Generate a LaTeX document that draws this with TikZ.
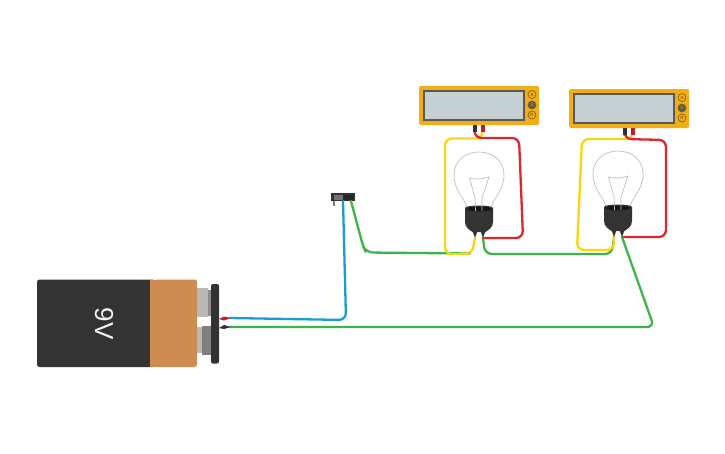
\documentclass[tikz,border=0pt]{standalone}
\usepackage{fontspec}
\setmainfont{Liberation Sans}
\definecolor{wred}{HTML}{E0262B}
\definecolor{wyellow}{HTML}{FBD60F}
\definecolor{wgreen}{HTML}{3DB54A}
\definecolor{wblue}{HTML}{1B9DCF}
\definecolor{dark}{HTML}{333333}
\definecolor{copper}{HTML}{CF8C52}
\definecolor{amber}{HTML}{F2AE17}
\definecolor{lcd}{HTML}{C6CFD2}
\tikzset{
  x=1pt,y=-1pt,
  wire/.style={line width=2.3pt,rounded corners=7pt,line cap=round},
  glass/.style={draw=black!25,line width=0.7pt},
  btn/.style={circle,draw=black!45!amber,line width=0.7pt,inner sep=0pt,minimum size=8pt,
     font=\fontsize{4.5}{5}\selectfont,text=black!60!amber},
  pin/.style={line width=4pt},
  meter/.pic={
    \path[fill=amber,rounded corners=2pt] (0,0) rectangle (120,39);
    \path[fill=lcd,draw=black!65,line width=1.4pt] (5,5) rectangle (105,34);
    \node[btn] (-a) at (113,8.5) {A};
    \node[btn,fill=black!65,text=amber] (-v) at (113,19) {V};
    \node[btn] (-r) at (113,29) {R};
    \coordinate (-black) at (55.5,46);
    \coordinate (-red) at (63.5,46);
    \coordinate (-blacktop) at (55.5,39);
    \coordinate (-redtop) at (63.5,39);
  },
  bulb/.pic={
    \path[glass,fill=white] (-12,1) .. controls (-12,-8) and (-25,-16) .. (-25,-33)
      .. controls (-25,-47) and (-14,-56) .. (0,-56)
      .. controls (14,-56) and (25,-47) .. (25,-33)
      .. controls (25,-16) and (12,-8) .. (12,1);
    \path[fill=dark] (-14,0) -- (-14,14) .. controls (-14,20) and (-9,22) .. (-6.5,24)
      -- (-1.5,24) -- (1.5,24) -- (6.5,24)
      .. controls (9,22) and (14,20) .. (14,14) -- (14,0) -- cycle;
    \path[fill=dark] (0,0) ellipse [x radius=14,y radius=2.5];
    \path[fill=black!92] (0,1) ellipse [x radius=12,y radius=2.4];
    \path[glass] (-3.5,3) -- (-4,-10) -- (-9.5,-30) .. controls (-3,-28) and (3,-29) .. (10,-31)
      -- (3,-10) -- (3,3);
    \coordinate (-left) at (-4,30);
    \coordinate (-right) at (4,30);
    \coordinate (-lefttop) at (-4,23);
    \coordinate (-righttop) at (4,23);
  }
}
\begin{document}
\begin{tikzpicture}
\useasboundingbox[fill=white] (0,0) rectangle (725,453);
% battery
\path[fill=dark,rounded corners=2.5pt] (37,279.5) rectangle (155,367);
\path[fill=copper,rounded corners=2.5pt] (155,279.5) rectangle (197,367);
\path[fill=copper] (150,279.5) rectangle (160,367);
\path[fill=black!28] (197,288) rectangle (208,317);
\path[fill=black!45] (208,290) rectangle (212,316);
\path[fill=black!28] (197,327) rectangle (203,353);
\path[fill=black!50] (202,326) rectangle (212,355);
\path[fill=dark,rounded corners=2pt] (211,284) rectangle (219,363.5);
\node[rotate=-90,text=black!6,font=\fontsize{26}{28}\selectfont] (label) at (104,323.5) {9V};
\coordinate (batred) at (230,318);
\coordinate (batblack) at (230,327);
% switch
\path[fill=dark] (331,193) rectangle (355,201);
\path[fill=black!55] (334,195) rectangle (343,199.5);
\path[fill=black!85] (343,195) rectangle (353,199.5);
\draw[black!50,line width=1.3pt] (334,201) -- (334,206);
\coordinate (swa) at (343,201);
\coordinate (swb) at (351,201);
% devices
\pic (m1) at (419,86) {meter};
\pic (m2) at (569,89) {meter};
\pic (b1) at (479,208) {bulb};
\pic (b2) at (618,207) {bulb};
% wires
\draw[wire,wgreen] (swb) -- (363,246) -- (366,252.5) -- (470,253.5);
\draw[wire,wgreen] (b1-right) -- (485,254) -- (612,254) -- (b2-left);
\draw[wire,wyellow] (m1-red) -- (482.5,138.5) -- (445,138.5) -- (445,254) -- (472,254) -- (b1-left);
\draw[wire,wred] (m1-black) -- (474.5,138) -- (519,138) -- (523,238) -- (b1-right);
\draw[wire,wyellow] (m2-red) -- (632.5,139) -- (582,139) -- (577,250) -- (614,250) -- (b2-left);
\draw[wire,wred] (m2-black) -- (624.5,139) -- (666,140) -- (666,237) -- (b2-right);
\draw[wire,wgreen] (b2-right) -- (654,327) -- (batblack);
\draw[wire,wblue] (swa) -- (346,320) -- (batred);
% terminals over the wires
\draw[pin,dark] (m1-blacktop) -- (m1-black);
\draw[pin,wred!85!black] (m1-redtop) -- (m1-red);
\draw[pin,dark] (m2-blacktop) -- (m2-black);
\draw[pin,wred!85!black] (m2-redtop) -- (m2-red);
\path[fill=dark] (b1-lefttop) ++(-2.5,0) -- ++(5,0) -- (b1-left) -- cycle;
\path[fill=dark] (b1-righttop) ++(-2.5,0) -- ++(5,0) -- (b1-right) -- cycle;
\path[fill=dark] (b2-lefttop) ++(-2.5,0) -- ++(5,0) -- (b2-left) -- cycle;
\path[fill=dark] (b2-righttop) ++(-2.5,0) -- ++(5,0) -- (b2-right) -- cycle;
\path[fill=wred!85!black] (219,319) -- (224,316.5) -- (231,318) -- (224,320.5) -- cycle;
\path[fill=dark] (219,328) -- (224,325) -- (231,327) -- (224,329) -- cycle;
\end{tikzpicture}
\end{document}
